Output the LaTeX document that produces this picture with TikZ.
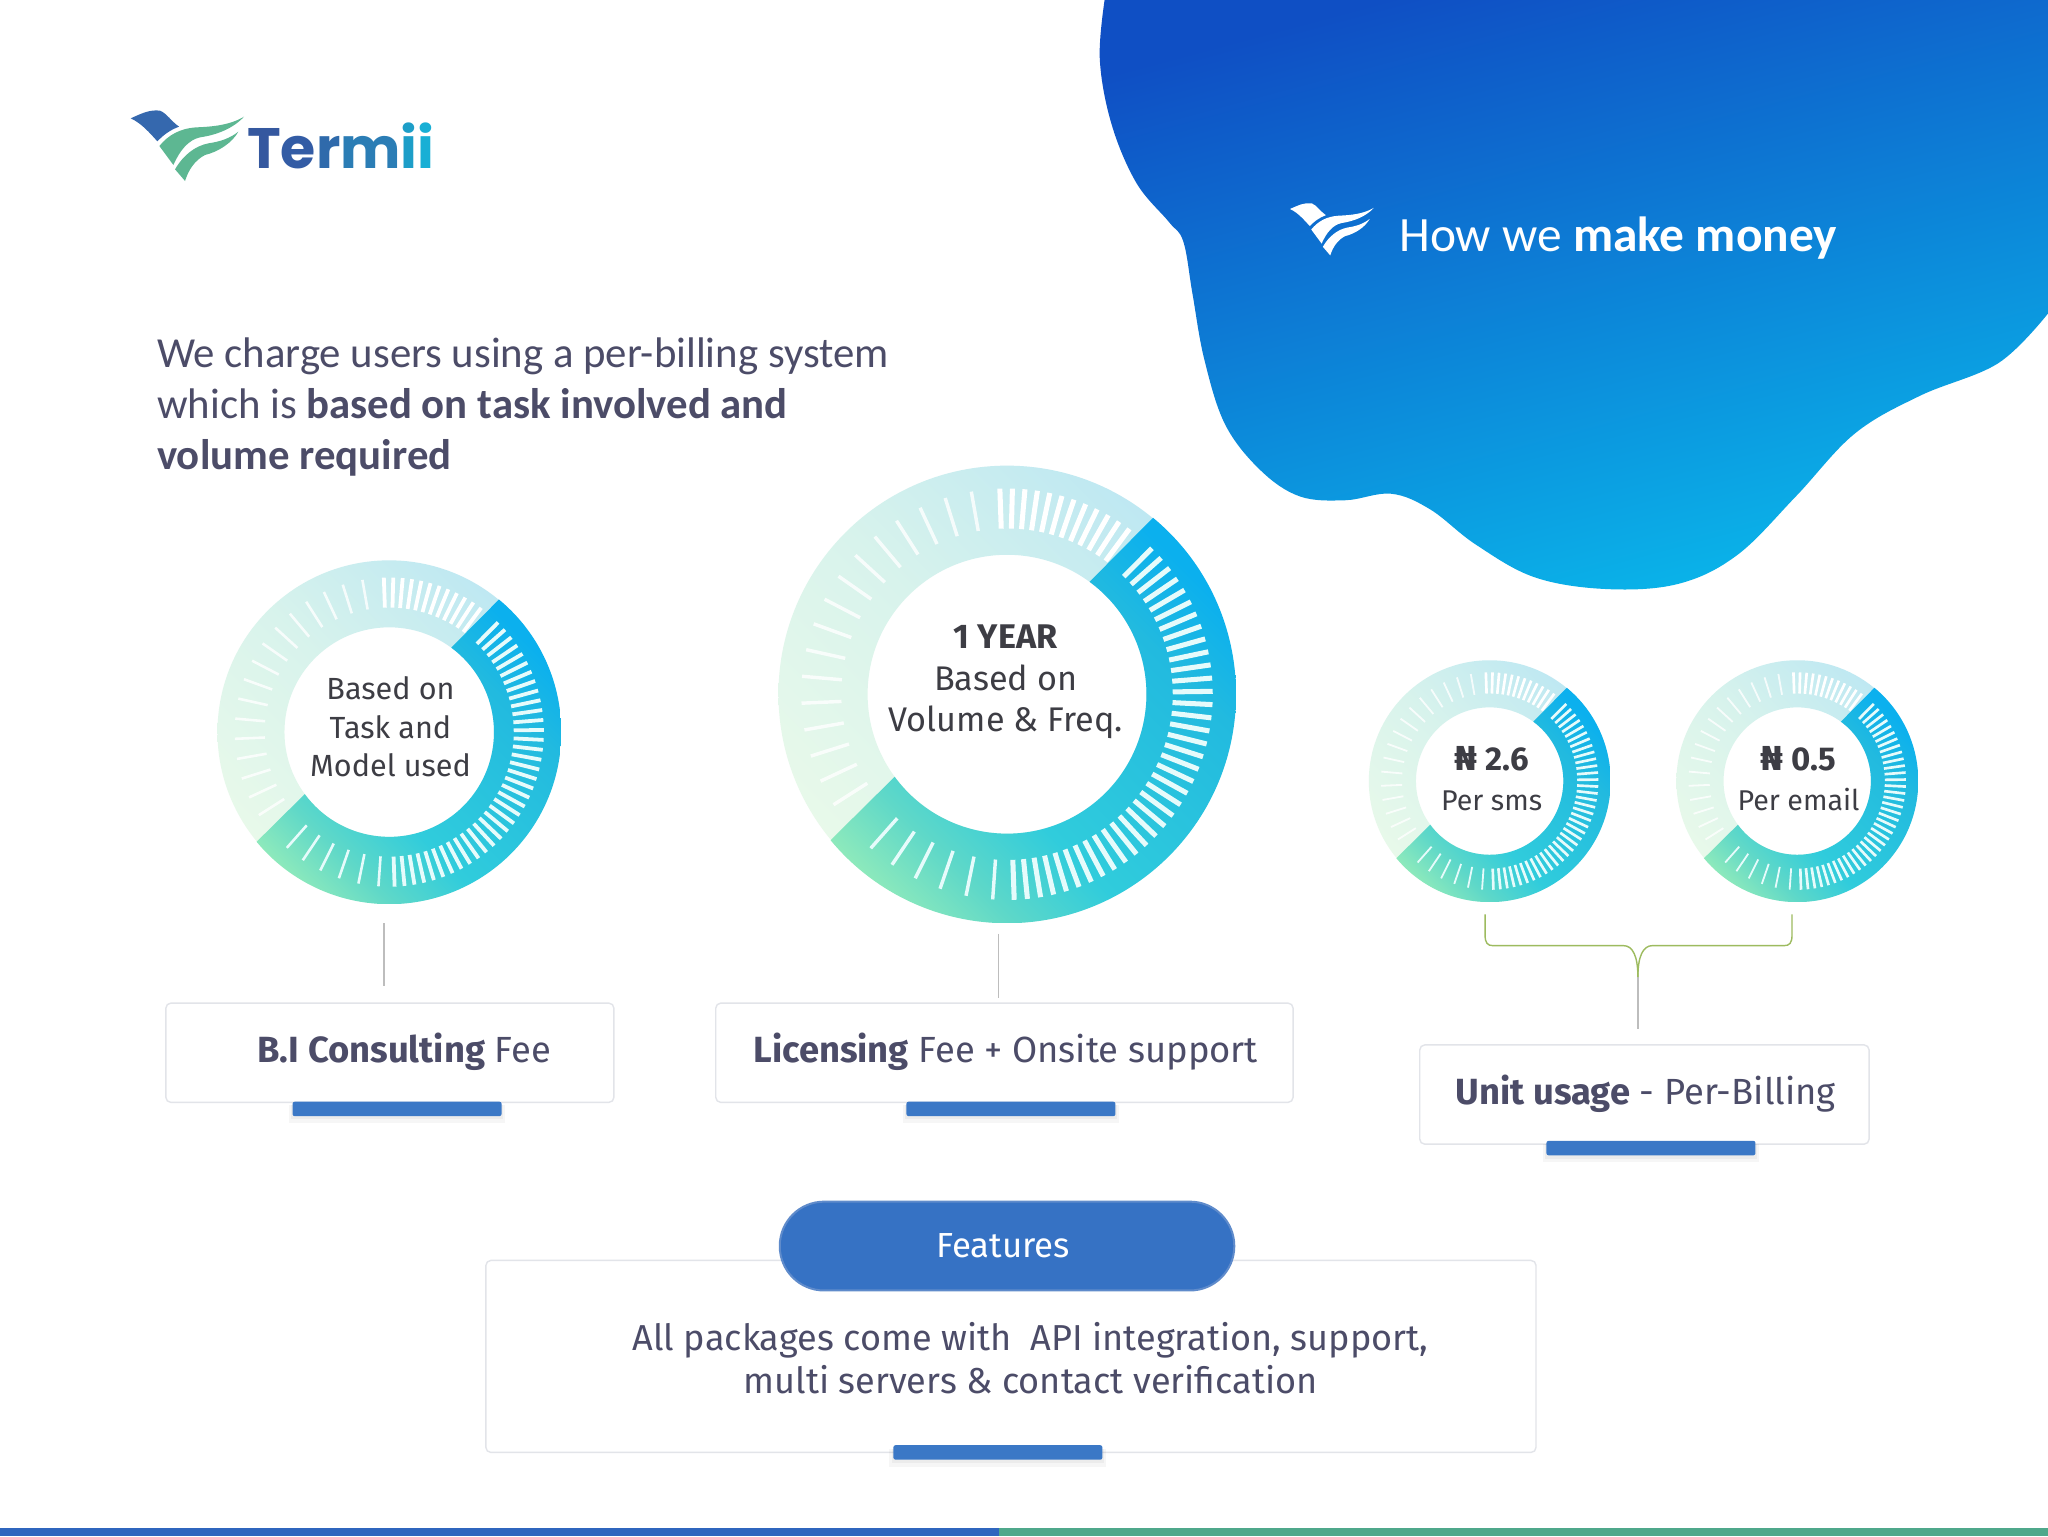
\documentclass[tikz,border=0pt]{standalone}
\usepackage{fontspec}
\setmainfont{Fira Sans}
\newfontfamily\introfont{Carlito}
\newfontfamily\logofont{Poppins}
\newfontfamily\nairafont{DejaVu Sans}
\usetikzlibrary{calc}
\definecolor{labelink}{HTML}{4C4C68}
\definecolor{ringink}{HTML}{3D3D44}
\definecolor{barblue}{HTML}{3B78C6}
\definecolor{pillblue}{HTML}{3672C4}
\definecolor{pilledge}{HTML}{5F8BCB}
\definecolor{edgegray}{HTML}{E2E4E9}
\definecolor{leadgray}{HTML}{BDBDBD}
\definecolor{leadgreen}{HTML}{9DBB5F}
\definecolor{blobtop}{HTML}{0F4FC4}
\definecolor{blobbot}{HTML}{0AB6EA}
\definecolor{lightlow}{HTML}{E8F9EA}
\definecolor{lightmid}{HTML}{D8F3EC}
\definecolor{lighthigh}{HTML}{BEE8F2}
\definecolor{ringgreen}{HTML}{8CE9BC}
\definecolor{ringteal}{HTML}{5FD8C8}
\definecolor{ringmid}{HTML}{30CCDC}
\definecolor{ringdeep}{HTML}{22BADF}
\definecolor{ringblue}{HTML}{0BB0EE}
\definecolor{tickpale}{HTML}{E6FBFB}
\definecolor{logoblue}{HTML}{3568AE}
\definecolor{logogreen}{HTML}{5DB792}
\definecolor{footblue}{HTML}{2F66BE}
\definecolor{footgreen}{HTML}{4FA88B}
\definecolor{brandt}{HTML}{35589F}
\definecolor{brande}{HTML}{335CA5}
\definecolor{brandr}{HTML}{2F6AAB}
\definecolor{brandm}{HTML}{2B7DB5}
\definecolor{brandi}{HTML}{1D9EC8}
\definecolor{brandj}{HTML}{18AFD5}
% the ring's diameter covers 25bp to 75bp of the shading axis
\pgfdeclarehorizontalshading{paleband}{100bp}{
  color(0bp)=(lightlow); color(25bp)=(lightlow); color(50bp)=(lightmid); color(75bp)=(lighthigh); color(100bp)=(lighthigh)}
\pgfdeclarehorizontalshading{fullband}{100bp}{
  color(0bp)=(ringgreen); color(25bp)=(ringgreen); color(32.5bp)=(ringteal); color(42.5bp)=(ringmid); color(65bp)=(ringdeep); color(73.7bp)=(ringblue); color(100bp)=(ringblue)}
\def\uu{0.65306pt}
\tikzset{
  boxstyle/.style={draw=edgegray,line width=0.7pt,rounded corners=2.5pt,fill=white,inner sep=0pt},
  barstyle/.style={fill=barblue,rounded corners=1pt,inner sep=0pt,minimum width=160*\uu,minimum height=11*\uu},
  labeltext/.style={text=labelink,font=\fontsize{18.2}{22}\selectfont,inner sep=0pt},
  ringtext/.style={text=ringink,align=center,inner sep=0pt},
  lead/.style={leadgray,line width=0.6pt},
  bracket/.style={leadgreen,line width=0.7pt},
}
% ring: name, cx, cy, R
\newcommand\gauge[4]{%
  \pgfmathsetmacro\thinw{#4*0.015*0.65306}
  \pgfmathsetmacro\widew{#4*0.022*0.65306}
  \begin{scope}[shift={(#2,#3)},yscale=-1,scale=#4/100]
    \coordinate (#1) at (0,0);
    \begin{scope}[even odd rule]
      \clip (0,0) circle[radius=100] (0,0) circle[radius=61];
      \shade[shading=paleband,shading angle=45] (-100,-100) rectangle (100,100);
    \end{scope}
    \begin{scope}
      \clip (50.4:100.2) arc[start angle=50.4,end angle=-140.4,radius=100.2]
        -- (-143.7:61) arc[start angle=-143.7,end angle=53.7,radius=61] -- cycle;
      \shade[shading=fullband,shading angle=45] (-100,-100) rectangle (100,100);
    \end{scope}
    \foreach \a in {-88,-84.3,...,48}
      \draw[tickpale,line width=\widew pt] (\a:72.5) -- (\a:90);
    \foreach \a in {-94,-101.5,...,-132}
      \draw[tickpale,line width=\thinw pt] (\a:72.5) -- (\a:90);
    \foreach \a in {53.5,57,...,93}
      \draw[white,line width=\widew pt] (\a:72.5) -- (\a:90);
    \foreach \a in {100,107.5,...,216}
      \draw[white,opacity=.8,line width=\thinw pt] (\a:72.5) -- (\a:90);
  \end{scope}
}
% bird logo drawn in the coordinates of the logo crop
\newcommand\birdmark[5]{%
  \begin{scope}[shift={(#1,#2)},scale=#3]
    \fill[#4] (92,115) .. controls (125,100) and (150,88) .. (180,92) .. controls (200,100) and (215,125) .. (237,140)
      .. controls (210,150) and (190,165) .. (172,184) .. controls (150,160) and (125,130) .. (92,115) -- cycle;
    \fill[#5] (178,198) .. controls (205,165) and (240,145) .. (290,142) .. controls (340,140) and (390,135) .. (432,110)
      .. controls (400,145) and (350,165) .. (300,172) .. controls (265,180) and (240,210) .. (220,255) -- cycle;
    \fill[#5] (225,268) .. controls (250,225) and (285,198) .. (325,190) .. controls (360,185) and (390,175) .. (415,155)
      .. controls (395,190) and (355,215) .. (315,225) .. controls (285,240) and (265,270) .. (255,303) -- cycle;
  \end{scope}
}
\begin{document}
\begin{tikzpicture}[x=\uu,y=-\uu]
\useasboundingbox (0,0) rectangle (1568,1176);
\fill[white] (0,0) rectangle (1568,1176);
% blob
\shade[top color=blobtop,bottom color=blobbot,shading angle=15]
  plot[smooth,tension=.6] coordinates {(846,-2) (842,45) (851,95) (870,140) (895,170) (906,185) (913,225) (922,275) (938,325) (965,360) (995,380) (1030,383) (1065,378) (1095,390) (1130,417) (1175,442) (1230,451) (1285,447) (1330,425) (1375,380) (1420,332) (1470,303) (1530,278) (1568,240)}
  -- (1568,-2) -- cycle;
% logos
\birdmark{76.6}{61.25}{0.2552}{logoblue}{logogreen}
\node[anchor=west,inner sep=0pt,font=\logofont\bfseries\fontsize{28.5}{30}\selectfont] (brand) at (189,112)
  {\textcolor{brandt}{T}\textcolor{brande}{e}\textcolor{brandr}{r}\textcolor{brandm}{m}\textcolor{brandi}{i}\textcolor{brandj}{i}};
\birdmark{970.3}{138.3}{0.1889}{white}{white}
\node[anchor=west,inner sep=0pt,text=white,font=\introfont\fontsize{24.7}{30}\selectfont] (headline) at (1071,182.5) {How we \textbf{make money}};
% intro
\node[anchor=north west,inner sep=0pt,text=labelink,align=left,font=\introfont\fontsize{21.4}{25.5}\selectfont] (intro) at (120,258.5)
  {We charge users using a per-billing system\\which is \textbf{based on task involved and}\\\textbf{volume required}};
% gauges
\gauge{ringa}{298}{560.5}{131.5}
\gauge{ringb}{771}{531.5}{175}
\gauge{ringc}{1140.5}{598}{92.5}
\gauge{ringd}{1376}{598}{92.5}
\node[ringtext,font=\fontsize{15.3}{19.3}\selectfont] (ringatext) at (299,556.5) {Based on\\Task and\\Model used};
\node[ringtext,font=\fontsize{17.1}{20.6}\selectfont] (ringbtext) at (770,522) {\textbf{1 YEAR}\\Based on\\Volume \& Freq.};
\node[ringtext,font=\fontsize{14.3}{20}\selectfont] (ringctext) at (1142,596.5) {{\fontsize{16.5}{20}\selectfont\textbf{{\nairafont ₦} 2.6}}\\Per sms};
\node[ringtext,font=\fontsize{14.3}{20}\selectfont] (ringdtext) at (1377,596.5) {{\fontsize{16.5}{20}\selectfont\textbf{{\nairafont ₦} 0.5}}\\Per email};
% boxes
\node[boxstyle,minimum width=343*\uu,minimum height=76*\uu] (boxa) at (298.5,806) {};
\node[boxstyle,minimum width=442*\uu,minimum height=76*\uu] (boxb) at (769,806) {};
\node[boxstyle,minimum width=344*\uu,minimum height=76*\uu] (boxc) at (1259,838) {};
\node[labeltext] (boxatext) at (309.5,805.5) {\textbf{B.I Consulting} Fee};
\node[labeltext] (boxbtext) at (770,805.5) {\textbf{Licensing} Fee + Onsite support};
\node[labeltext] (boxctext) at (1260,837.5) {\textbf{Unit usage} - Per-Billing};
% features box
\node[boxstyle,minimum width=804*\uu,minimum height=147*\uu] (featbox) at (774,1038.5) {};
\node[text=labelink,align=center,inner sep=0pt,font=\fontsize{18.05}{21.6}\selectfont] (feattext) at (789,1039.5)
  {All packages come with\ \ API integration, support,\\multi servers \& contact verification};
\node[draw=pilledge,line width=1pt,fill=pillblue,rounded corners=33.9*\uu,minimum width=348*\uu,minimum height=68*\uu,inner sep=0pt] (pill) at (771,954) {};
\node[inner sep=0pt,text=white,font=\fontsize{17.4}{20}\selectfont] (pilltext) at (768,954) {Features};
% bars with soft shadow
\foreach \cx/\cy/\nm in {304/849/bara,774/849/barb,1264/879/barc,764/1112/bard}{
  \fill[black,opacity=.035] ($(\cx,\cy)+(-83,-3)$) rectangle ($(\cx,\cy)+(83,11)$);
  \fill[black,opacity=.04] ($(\cx,\cy)+(-81,-3)$) rectangle ($(\cx,\cy)+(81,8)$);
  \node[barstyle] (\nm) at (\cx,\cy) {};
}
% connectors
\coordinate (leada) at (294,707);
\coordinate (leadab) at (294,755);
\coordinate (leadb) at (764.5,715);
\coordinate (leadbb) at (764.5,764);
\coordinate (leadc) at (1254,748);
\coordinate (leadcb) at (1254,788);
\coordinate (brl) at (1137,700);
\coordinate (brr) at (1372,700);
\draw[lead] (leada) -- (leadab);
\draw[lead] (leadb) -- (leadbb);
\draw[lead] (leadc) -- (leadcb);
\draw[bracket] (brl) -- (1137,716) .. controls (1137,722) and (1139,724) .. (1143,724) -- (1243,724)
  .. controls (1250,724) and (1254,732) .. (leadc);
\draw[bracket] (brr) -- (1372,716) .. controls (1372,722) and (1370,724) .. (1366,724) -- (1265,724)
  .. controls (1258,724) and (1254,732) .. (leadc);
% footer
\fill[footblue] (0,1170) rectangle (765,1176);
\fill[footgreen] (765,1170) rectangle (1568,1176);
\end{tikzpicture}
\end{document}
